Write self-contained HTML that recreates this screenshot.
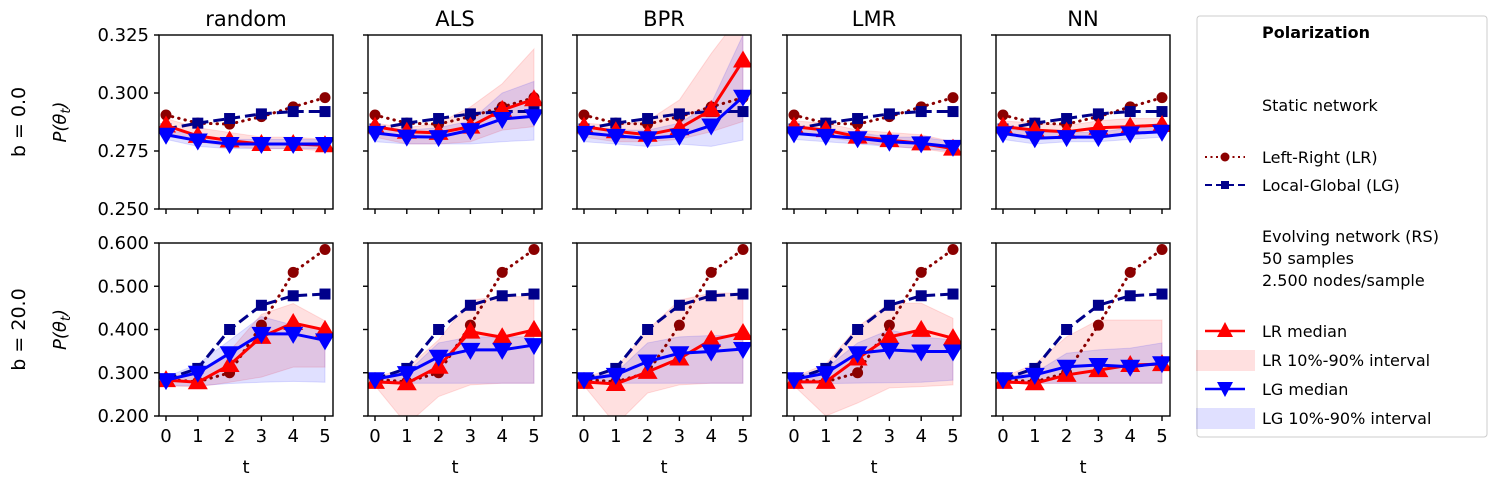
<!DOCTYPE html>
<html><head><meta charset="utf-8">
<style>
body{margin:0;background:#fff;}
svg{display:block;font-family:"DejaVu Sans","Liberation Sans",sans-serif;}
</style></head>
<body>
<svg id="chart" width="1491" height="480" viewBox="0 0 1491 480" xmlns="http://www.w3.org/2000/svg">
<defs id="defs"></defs>
<g id="plots"></g>
<g id="legend">
  <rect x="1197" y="16" width="290" height="421" rx="3" fill="#fff" stroke="#ccc" stroke-width="1"/>
  <text x="1262" y="38" font-size="16" font-weight="bold">Polarization</text>
  <text x="1262" y="111" font-size="16">Static network</text>
  <g>
    <line x1="1205" y1="157" x2="1245" y2="157" stroke="#8b0000" stroke-width="2" stroke-dasharray="2,3.5"/>
    <circle cx="1225" cy="157" r="4.5" fill="#8b0000"/>
    <text x="1262" y="163" font-size="16">Left-Right (LR)</text>
  </g>
  <g>
    <line x1="1205" y1="185" x2="1245" y2="185" stroke="#00008b" stroke-width="2" stroke-dasharray="7,4"/>
    <rect x="1221" y="181" width="8" height="8" fill="#00008b"/>
    <text x="1262" y="191" font-size="16">Local-Global (LG)</text>
  </g>
  <text x="1262" y="242" font-size="16">Evolving network (RS)</text>
  <text x="1262" y="264" font-size="16">50 samples</text>
  <text x="1262" y="286" font-size="16">2.500 nodes/sample</text>
  <g>
    <line x1="1205" y1="331" x2="1245" y2="331" stroke="#ff0000" stroke-width="2.5"/>
    <polygon points="1225,322 1233,337 1217,337" fill="#ff0000"/>
    <text x="1262" y="337" font-size="16">LR median</text>
  </g>
  <g>
    <rect x="1196" y="350" width="59" height="21" fill="#ff0000" fill-opacity="0.12"/>
    <text x="1262" y="366" font-size="16">LR 10%-90% interval</text>
  </g>
  <g>
    <line x1="1205" y1="389" x2="1245" y2="389" stroke="#0000ff" stroke-width="2.5"/>
    <polygon points="1217,382 1233,382 1225,397" fill="#0000ff"/>
    <text x="1262" y="395" font-size="16">LG median</text>
  </g>
  <g>
    <rect x="1196" y="408" width="59" height="21" fill="#0000ff" fill-opacity="0.12"/>
    <text x="1262" y="424" font-size="16">LG 10%-90% interval</text>
  </g>
</g>
</svg>
<script>
const methods = ["random","ALS","BPR","LMR","NN"];
const tValues = [0,1,2,3,4,5];
const row1Ticks = [0.25,0.275,0.3,0.325];
const row1TickLabels = ["0.250","0.275","0.300","0.325"];
const row2Ticks = [0.2,0.3,0.4,0.5,0.6];
const row2TickLabels = ["0.200","0.300","0.400","0.500","0.600"];
const rowLabels = ["b = 0.0","b = 20.0"];

const staticLR_b0 = [0.2905,0.287,0.2866,0.2898,0.294,0.298];
const staticLG_b0 = [0.2845,0.287,0.289,0.291,0.292,0.292];
const staticLR_b20 = [0.285,0.279,0.30,0.41,0.532,0.585];
const staticLG_b20 = [0.285,0.31,0.40,0.456,0.478,0.482];

const lrMed_b0 = [
 [0.286,0.2815,0.2795,0.278,0.278,0.2775],
 [0.2855,0.2833,0.2828,0.2855,0.2927,0.2973],
 [0.2855,0.2835,0.282,0.2848,0.2927,0.314],
 [0.2855,0.284,0.2812,0.2797,0.2783,0.276],
 [0.2855,0.284,0.2833,0.285,0.2855,0.2862]];
const lgMed_b0 = [
 [0.282,0.2795,0.278,0.278,0.278,0.278],
 [0.2828,0.2812,0.281,0.284,0.2888,0.290],
 [0.2828,0.2815,0.2805,0.2815,0.286,0.2984],
 [0.2826,0.2815,0.2805,0.279,0.2783,0.2768],
 [0.2826,0.2805,0.281,0.281,0.2826,0.2833]];
const lrLo_b0 = [
 [0.283,0.279,0.277,0.276,0.276,0.275],
 [0.281,0.278,0.278,0.279,0.284,0.2855],
 [0.281,0.279,0.279,0.280,0.2833,0.2877],
 [0.283,0.281,0.279,0.277,0.276,0.274],
 [0.283,0.281,0.280,0.282,0.282,0.283]];
const lrHi_b0 = [
 [0.289,0.285,0.283,0.281,0.281,0.280],
 [0.287,0.285,0.287,0.294,0.304,0.319],
 [0.287,0.286,0.288,0.297,0.317,0.335],
 [0.288,0.287,0.284,0.283,0.282,0.279],
 [0.288,0.287,0.286,0.288,0.289,0.289]];
const lgLo_b0 = [
 [0.280,0.277,0.276,0.276,0.276,0.276],
 [0.279,0.278,0.278,0.278,0.279,0.2797],
 [0.279,0.278,0.277,0.278,0.277,0.2797],
 [0.280,0.279,0.278,0.277,0.276,0.275],
 [0.280,0.278,0.279,0.279,0.280,0.281]];
const lgHi_b0 = [
 [0.284,0.282,0.280,0.280,0.280,0.280],
 [0.285,0.284,0.285,0.288,0.300,0.305],
 [0.285,0.284,0.284,0.287,0.2955,0.325],
 [0.285,0.284,0.283,0.281,0.281,0.279],
 [0.285,0.283,0.283,0.283,0.285,0.286]];

const lrMed_b20 = [
 [0.283,0.278,0.318,0.383,0.415,0.399],
 [0.279,0.2756,0.314,0.395,0.382,0.399],
 [0.279,0.274,0.302,0.333,0.376,0.392],
 [0.279,0.279,0.333,0.383,0.399,0.380],
 [0.279,0.2756,0.295,0.306,0.318,0.320]];
const lgMed_b20 = [
 [0.283,0.300,0.345,0.390,0.390,0.375],
 [0.285,0.299,0.337,0.353,0.353,0.364],
 [0.285,0.295,0.326,0.345,0.349,0.355],
 [0.285,0.299,0.345,0.353,0.349,0.349],
 [0.285,0.295,0.314,0.318,0.314,0.322]];
const lrLo_b20 = [
 [0.270,0.267,0.278,0.290,0.313,0.313],
 [0.270,0.180,0.245,0.272,0.2756,0.2756],
 [0.270,0.180,0.253,0.272,0.2756,0.2756],
 [0.270,0.200,0.230,0.265,0.268,0.272],
 [0.275,0.275,0.2756,0.2756,0.2756,0.2756]];
const lrHi_b20 = [
 [0.290,0.300,0.350,0.435,0.460,0.420],
 [0.290,0.310,0.376,0.468,0.476,0.476],
 [0.290,0.310,0.399,0.468,0.484,0.484],
 [0.290,0.320,0.406,0.461,0.461,0.426],
 [0.290,0.320,0.383,0.422,0.422,0.422]];
const lgLo_b20 = [
 [0.270,0.270,0.275,0.278,0.280,0.278],
 [0.275,0.2756,0.2756,0.2756,0.2756,0.2756],
 [0.275,0.2756,0.2756,0.2756,0.2756,0.2756],
 [0.275,0.275,0.276,0.277,0.278,0.283],
 [0.275,0.2756,0.2756,0.2756,0.2756,0.2756]];
const lgHi_b20 = [
 [0.290,0.320,0.375,0.430,0.410,0.400],
 [0.290,0.300,0.369,0.383,0.383,0.383],
 [0.290,0.300,0.369,0.383,0.386,0.386],
 [0.290,0.310,0.369,0.399,0.383,0.376],
 [0.290,0.300,0.345,0.353,0.357,0.369]];

const NS="http://www.w3.org/2000/svg";
const plots=document.getElementById('plots');
const defs=document.getElementById('defs');
function mk(tag,attrs,parent){const e=document.createElementNS(NS,tag);for(const k in attrs)e.setAttribute(k,attrs[k]);(parent||plots).appendChild(e);return e;}

const colLeft=[159,368,577,787,996], PW=174;
const rows=[
 {top:35,bottom:209,min:0.25,max:0.325,ticks:row1Ticks,labels:row1TickLabels,
  sLR:staticLR_b0,sLG:staticLG_b0,lrMed:lrMed_b0,lgMed:lgMed_b0,lrLo:lrLo_b0,lrHi:lrHi_b0,lgLo:lgLo_b0,lgHi:lgHi_b0},
 {top:243,bottom:416,min:0.2,max:0.6,ticks:row2Ticks,labels:row2TickLabels,
  sLR:staticLR_b20,sLG:staticLG_b20,lrMed:lrMed_b20,lgMed:lgMed_b20,lrLo:lrLo_b20,lrHi:lrHi_b20,lgLo:lgLo_b20,lgHi:lgHi_b20}];

function pts(xs,ys,X,Y){return xs.map((t,i)=>X(t)+','+Y(ys[i])).join(' ');}

rows.forEach((r,ri)=>{
 const Y=v=>r.bottom-(v-r.min)/(r.max-r.min)*(r.bottom-r.top);
 const rl=mk('text',{x:0,y:0,'font-size':19,'text-anchor':'middle',transform:`translate(25,${(r.top+r.bottom)/2}) rotate(-90)`});
 
 
 rl.textContent=rowLabels[ri];
 const yl=mk('text',{x:0,y:0,'font-size':18,'text-anchor':'middle','font-style':'italic',transform:`translate(66,${(r.top+r.bottom)/2}) rotate(-90)`});
 
 
 yl.innerHTML='P(θ<tspan font-size="13" dy="4">t</tspan><tspan dy="-4">)</tspan>';
 methods.forEach((m,ci)=>{
  const L=colLeft[ci];
  const X=t=>L+7+t*(159/5);
  const g=mk('g',{});
  
  
  const cid='clip'+ri+'_'+ci;
  const cp=mk('clipPath',{id:cid},defs);
  mk('rect',{x:L,y:r.top,width:PW,height:r.bottom-r.top},cp);
  const cg=mk('g',{'clip-path':`url(#${cid})`},g);
  const band=(lo,hi,col,name)=>{
   const p=tValues.map((t,i)=>X(t)+','+Y(hi[ci][i])).concat(tValues.slice().reverse().map((t,j)=>{const i=5-j;return X(t)+','+Y(lo[ci][i]);})).join(' ');
   const e=mk('polygon',{points:p,fill:col,'fill-opacity':0.12,stroke:col,'stroke-opacity':0.12},cg);
   
   
  };
  band(r.lrLo,r.lrHi,'#ff0000','lr-interval-band');
  band(r.lgLo,r.lgHi,'#0000ff','lg-interval-band');
  const s1=mk('polyline',{points:pts(tValues,r.sLR,X,Y),fill:'none',stroke:'#8b0000','stroke-width':3,'stroke-dasharray':'0.5,6','stroke-linecap':'round'},cg);
  
  
  tValues.forEach((t,i)=>{const c=mk('circle',{cx:X(t),cy:Y(r.sLR[i]),r:5.5,fill:'#8b0000'},cg);
   
   });
  const s2=mk('polyline',{points:pts(tValues,r.sLG,X,Y),fill:'none',stroke:'#00008b','stroke-width':3,'stroke-dasharray':'11,5'},cg);
  
  
  tValues.forEach((t,i)=>{const c=mk('rect',{x:X(t)-5.5,y:Y(r.sLG[i])-5.5,width:11,height:11,fill:'#00008b'},cg);
   
   });
  const m1=mk('polyline',{points:pts(tValues,r.lrMed[ci],X,Y),fill:'none',stroke:'#ff0000','stroke-width':3},cg);
  
  
  tValues.forEach((t,i)=>{const x=X(t),y=Y(r.lrMed[ci][i]);const p=mk('polygon',{points:`${x},${y-10} ${x+10},${y+7} ${x-10},${y+7}`,fill:'#ff0000'},cg);
   
   });
  const m2=mk('polyline',{points:pts(tValues,r.lgMed[ci],X,Y),fill:'none',stroke:'#0000ff','stroke-width':3},cg);
  
  
  tValues.forEach((t,i)=>{const x=X(t),y=Y(r.lgMed[ci][i]);const p=mk('polygon',{points:`${x-10},${y-7} ${x+10},${y-7} ${x},${y+10}`,fill:'#0000ff'},cg);
   
   });
  mk('rect',{x:L,y:r.top,width:PW,height:r.bottom-r.top,fill:'none',stroke:'#000','stroke-width':1.4},g);
  tValues.forEach(t=>{mk('line',{x1:X(t),y1:r.bottom,x2:X(t),y2:r.bottom+5,stroke:'#000','stroke-width':1.4},g);
   if(ri===1){const tl=mk('text',{x:X(t),y:r.bottom+26,'font-size':18,'text-anchor':'middle'},g);
    
    
    tl.textContent=t;}});
  r.ticks.forEach((v,k)=>{mk('line',{x1:L-5,y1:Y(v),x2:L,y2:Y(v),stroke:'#000','stroke-width':1.4},g);
   if(ci===0){const yt=mk('text',{x:L-10,y:Y(v)+6,'font-size':18,'text-anchor':'end'},g);
    
    
    yt.textContent=r.labels[k];}});
  if(ri===0){const ti=mk('text',{x:L+PW/2,y:26,'font-size':21,'text-anchor':'middle'},g);
   
   
   ti.textContent=m;}
  if(ri===1){const xt=mk('text',{x:L+PW/2,y:473,'font-size':18,'text-anchor':'middle'},g);
   
   
   xt.textContent='t';}
 });
});
</script>
</body></html>
